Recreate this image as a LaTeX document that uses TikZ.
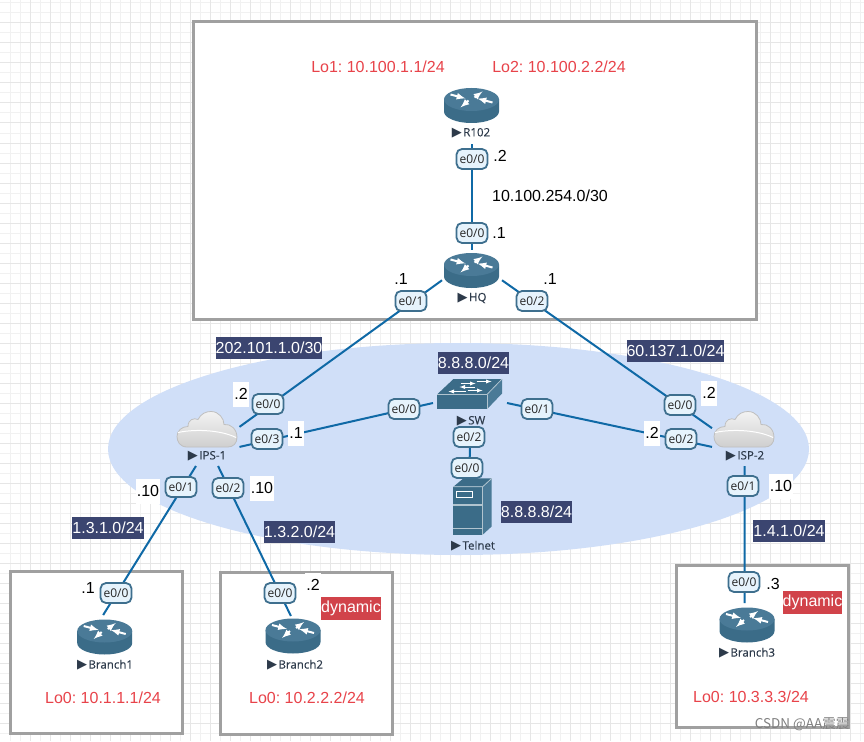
\documentclass[tikz,border=0pt]{standalone}
\usepackage{fontspec}
\usepackage{tikz}
\usetikzlibrary{arrows, shapes}
\setmainfont{Liberation Sans}
\newfontfamily\devfont{Open Sans}
\newfontfamily\namefont[FakeBold=0.4]{Open Sans}
\newfontfamily\symfont{DejaVu Sans}
\newfontfamily\cjkfont{Noto Sans CJK SC}
\frenchspacing

\definecolor{gridminor}{HTML}{F1F1F1}
\definecolor{gridmajor}{HTML}{E6E6E6}
\definecolor{siteblue}{HTML}{D0DFF8}
\definecolor{boxgray}{HTML}{A0A0A0}
\definecolor{linkblue}{HTML}{0F69A6}
\definecolor{portedge}{HTML}{3E6F8E}
\definecolor{portfill}{HTML}{E6F3FC}
\definecolor{iconbody}{HTML}{3B6C88}
\definecolor{icontop}{HTML}{4A7A97}
\definecolor{netnavy}{HTML}{3B4570}
\definecolor{dynred}{HTML}{D1434A}
\definecolor{loopred}{HTML}{E8434A}
\definecolor{namedark}{HTML}{2D3A4A}

\newcommand{\devtext}[1]{{\symfont\fontsize{13}{13}\selectfont ▶}\hspace{1.5pt}#1}

\tikzset{
  router/.pic={
    \fill [iconbody] (-27.5,-6) -- (-27.5,6) .. controls (-27.5,12.5) and (-15,17.5) .. (0,17.5)
      .. controls (15,17.5) and (27.5,12.5) .. (27.5,6) -- (27.5,-6) -- cycle;
    \fill [icontop] (0,-6) ellipse [x radius=27.5pt, y radius=11.5pt];
    \draw [-latex, white, line width=2pt] (-21,-11) -- (-6,-7);
    \draw [-latex, white, line width=2pt] (21,-3) -- (6,-7);
    \draw [-latex, white, line width=2pt] (3,-8) -- (11,-14);
    \draw [-latex, white, line width=2pt] (-3,-5) -- (-11,2);
  },
  cloudicon/.pic={
    \path [draw=black!25, top color=gray!10, bottom color=gray!38, line width=.8pt]
      (-20,17.5) .. controls (-27,17.5) and (-30,12) .. (-30,7)
      .. controls (-30,1) and (-25,-3) .. (-19,-3)
      .. controls (-19,-10) and (-13,-12) .. (-9,-10)
      .. controls (-6,-16) and (-1,-18) .. (4,-18)
      .. controls (12,-18) and (17,-11) .. (17,-5)
      .. controls (24,-6) and (30,0) .. (30,8)
      .. controls (30,14) and (26,17.5) .. (21,17.5) -- cycle;
    \draw [white, line width=1pt] (-29,3) .. controls (-10,-1) and (15,1) .. (29,8);
  },
  switchicon/.pic={
    \fill [iconbody] (-32.5,0) rectangle (17.5,14.7);
    \fill [icontop] (17.5,0) -- (32.5,-15.5) -- (32.5,-1) -- (17.5,14.7) -- cycle;
    \fill [iconbody] (-32.5,0) -- (-16,-15.5) -- (32.5,-15.5) -- (17.5,0) -- cycle;
    \draw [white!60!iconbody, line width=.8pt] (-32.5,0) -- (17.5,0) -- (32.5,-15.5);
    \draw [white!60!iconbody, line width=.8pt] (17.5,0) -- (17.5,14.7);
    \draw [-latex, white, line width=.9pt] (-9,-11) -- (6,-11);
    \draw [-latex, white, line width=.9pt] (5,-7.5) -- (-10,-7.5);
    \draw [-latex, white, line width=.9pt] (-2,-4) -- (13,-4);
    \draw [-latex, white, line width=.9pt] (-4,-3) -- (-21,-3);
    \draw [-latex, white, line width=.9pt] (7,-13) -- (22,-13);
  },
  servericon/.pic={
    \fill [iconbody] (-19.3,-20) rectangle (10,28);
    \fill [icontop] (10,-20) -- (19,-28.3) -- (19,19.7) -- (10,28) -- cycle;
    \fill [iconbody] (-19.3,-20) -- (-9.3,-28.3) -- (19,-28.3) -- (10,-20) -- cycle;
    \draw [white!60!iconbody, line width=.8pt] (-19.3,-20) -- (10,-20) -- (19,-28.3);
    \draw [white!60!iconbody, line width=.8pt] (10,-20) -- (10,28);
    \draw [white!60!iconbody, line width=1.2pt] (-19.3,-1.7) -- (10,-1.7);
    \draw [white!60!iconbody, line width=1.2pt] (-19.3,21.7) -- (10,21.7);
    \draw [white, line width=.8pt, fill=iconbody] (-16,-15) rectangle (0,-9.3);
  }
}

\begin{document}
\begin{tikzpicture}[x=1pt, y=-1pt,
  dev/.style 2 args={rectangle, inner sep=0pt, outer sep=0pt,
    minimum width=#1pt, minimum height=#2pt},
  %
  area/.style 2 args={rectangle, draw=boxgray, line width=3pt, fill=white, inner sep=0pt,
    minimum width=#1pt, minimum height=#2pt},
  %
  link/.style ={draw=linkblue, line width=2pt},
  %
  port/.style ={rectangle, rounded corners=5.5pt, draw=portedge, line width=1.8pt, fill=portfill,
    minimum width=31pt, minimum height=20pt, inner sep=0pt,
    font=\devfont\fontsize{12}{14}\selectfont, text=black!85},
  %
  devname/.style ={inner sep=0pt, font=\namefont\fontsize{11.5}{13}\selectfont, text=namedark},
  %
  addr/.style ={fill=white, inner xsep=1pt, inner ysep=0pt, minimum height=25pt,
    font=\fontsize{16}{18}\selectfont},
  %
  plain/.style ={inner sep=0pt, font=\fontsize{16}{18}\selectfont},
  %
  loopback/.style ={inner sep=0pt, text=loopred, font=\fontsize{16}{18}\selectfont},
  %
  netlabel/.style ={fill=netnavy, text=white, inner xsep=0pt, inner ysep=0pt, minimum height=22pt,
    font=\fontsize{16}{18}\selectfont},
  %
  dynlabel/.style ={fill=dynred, text=white, inner xsep=0pt, inner ysep=0pt, minimum height=23pt,
    font=\fontsize{16}{18}\selectfont}
  ]

  \useasboundingbox (0,0) rectangle (864,741);
  \fill [white] (0,0) rectangle (864,741);

  \begin{scope}
    \foreach \gx in {10,20,...,860}
      \draw [gridminor, line width=1pt] (\gx,0) -- (\gx,741);
    \foreach \gy in {3,13,...,733}
      \draw [gridminor, line width=1pt] (0,\gy) -- (864,\gy);
    \foreach \gx in {30,50,...,850}
      \draw [gridmajor, line width=1pt] (\gx,0) -- (\gx,741);
    \foreach \gy in {23,43,...,723}
      \draw [gridmajor, line width=1pt] (0,\gy) -- (864,\gy);
  \end{scope}

  \begin{scope}
    %%%%%%%%%%%%%%%%%%%%%%%%%%%%%%%
    \node [ellipse, fill=siteblue, inner sep=0pt, minimum width=701pt, minimum height=212pt] (site) at (458.5,449) {};
    \node [area={563}{298}] (hqarea) at (475,170.5) {};
    \node [area={172}{162}] (b1area) at (96.5,652) {};
    \node [area={172}{162}] (b2area) at (306.5,653) {};
    \node [area={172}{162}] (b3area) at (762.5,646) {};
    %%%%%%%%%%%%%%%%%%%%%%%%%%%%%%%
    \node [dev={60}{77}] (r102) at (472,105.5) {};
    \node [dev={60}{41}] (hq) at (472,270.5) {};
    \node [dev={65}{52}] (ips1) at (207,440) {};
    \node [dev={65}{52}] (isp2) at (744.5,440) {};
    \node [dev={74}{50}] (sw) at (470,403) {};
    \node [dev={50}{94}] (telnet) at (469.5,507) {};
    \node [dev={58}{44}] (branch1) at (104.7,637) {};
    \node [dev={58}{40}] (branch2) at (293,636) {};
    \node [dev={58}{44}] (branch3) at (747,625) {};
  \end{scope}

  \begin{scope}
    \draw [link] (r102) -- (hq);
    \draw [link] (hq.198) -- (ips1.22);
    \draw [link] (hq.342) -- (isp2.160);
    \draw [link] (ips1.348) -- (sw.west);
    \draw [link] (sw.east) -- (isp2.192);
    \draw [link] (sw) -- (telnet);
    \draw [link] (ips1.247) -- (branch1.94);
    \draw [link] (ips1.293) -- (branch2.96);
    \draw [link] (isp2.south) -- (branch3.96);
  \end{scope}

  \pic at (471.5,105.5) {router};
  \pic at (471.5,270.5) {router};
  \pic at (104.7,637) {router};
  \pic at (293,636) {router};
  \pic at (747,625) {router};
  \pic at (207,429.5) {cloudicon};
  \pic at (744,429.5) {cloudicon};
  \pic at (469.5,394.5) {switchicon};
  \pic at (472.7,506.7) {servericon};

  \node [devname] (r102name) at (471,133) {\devtext{R102}};
  \node [devname] (hqname) at (472,298) {\devtext{HQ}};
  \node [devname] (ips1name) at (207,456) {\devtext{IPS-1}};
  \node [devname] (isp2name) at (745,456) {\devtext{ISP-2}};
  \node [devname] (swname) at (471,421) {\devtext{SW}};
  \node [devname] (telnetname) at (473,546) {\devtext{Telnet}};
  \node [devname] (branch1name) at (105,665) {\devtext{Branch1}};
  \node [devname] (branch2name) at (295,665) {\devtext{Branch2}};
  \node [devname] (branch3name) at (747,653) {\devtext{Branch3}};

  \begin{scope}
    \node [addr] (r102ip) at (500,156) {.2};
    \node [addr] (hqip0) at (499,233) {.1};
    \node [addr] (hqip1) at (401,279) {.1};
    \node [addr] (hqip2) at (550,279) {.1};
    \node [addr] (ips1ip0) at (241,394) {.2};
    \node [addr] (ips1ip3) at (296,433) {.1};
    \node [addr] (ips1ip1) at (148,491) {.10};
    \node [addr] (ips1ip2) at (262,488) {.10};
    \node [addr] (isp2ip0) at (709,393) {.2};
    \node [addr] (isp2ip2) at (652,433) {.2};
    \node [addr] (isp2ip1) at (781,486) {.10};
    \node [addr] (b1ip) at (88,588) {.1};
    \node [addr] (b2ip) at (313,585) {.2};
    \node [addr] (b3ip) at (773,584) {.3};
    %%%%%%%%%%%%%%%%%%%%%%%%%%%%%%%
    \node [port] (r102p) at (472,159) {e0/0};
    \node [port] (hqp0) at (472,233) {e0/0};
    \node [port] (hqp1) at (411,301) {e0/1};
    \node [port] (hqp2) at (532,301) {e0/2};
    \node [port] (ips1p0) at (268,404) {e0/0};
    \node [port] (ips1p3) at (267,439) {e0/3};
    \node [port] (ips1p1) at (181,487) {e0/1};
    \node [port] (ips1p2) at (228,488) {e0/2};
    \node [port] (swp0) at (404,409) {e0/0};
    \node [port] (swp1) at (537,409) {e0/1};
    \node [port] (swp2) at (469,437) {e0/2};
    \node [port] (telnetp) at (467,468) {e0/0};
    \node [port] (isp2p0) at (680,405) {e0/0};
    \node [port] (isp2p2) at (681,439) {e0/2};
    \node [port] (isp2p1) at (743,486) {e0/1};
    \node [port] (b1p) at (116,593) {e0/0};
    \node [port] (b2p) at (280,593) {e0/0};
    \node [port] (b3p) at (744,582) {e0/0};
  \end{scope}

  \node [loopback] (lo1) at (378,67) {Lo1: 10.100.1.1/24};
  \node [loopback] (lo2) at (559,67) {Lo2: 10.100.2.2/24};
  \node [loopback] (b1lo) at (103,698) {Lo0: 10.1.1.1/24};
  \node [loopback] (b2lo) at (307,698) {Lo0: 10.2.2.2/24};
  \node [loopback] (b3lo) at (751,697) {Lo0: 10.3.3.3/24};
  \node [plain] (hqnet) at (550,196) {10.100.254.0/30};
  %
  \node [netlabel] (net1) at (269,347.5) {202.101.1.0/30};
  \node [netlabel] (net2) at (473.5,362.5) {8.8.8.0/24};
  \node [netlabel] (net3) at (675.5,350.5) {60.137.1.0/24};
  \node [netlabel] (net4) at (536.5,512) {8.8.8.8/24};
  \node [netlabel] (net5) at (108,527.5) {1.3.1.0/24};
  \node [netlabel] (net6) at (299.5,532) {1.3.2.0/24};
  \node [netlabel] (net7) at (789,530.5) {1.4.1.0/24};
  %
  \node [dynlabel] (dyn2) at (351,608.5) {dynamic};
  \node [dynlabel] (dyn3) at (812.5,602.5) {dynamic};
  %
  \node [inner sep=0pt, text=gray, font=\cjkfont\fontsize{13.5}{15}\selectfont] (mark) at (802,724) {CSDN @AA震震};

\end{tikzpicture}
\end{document}
